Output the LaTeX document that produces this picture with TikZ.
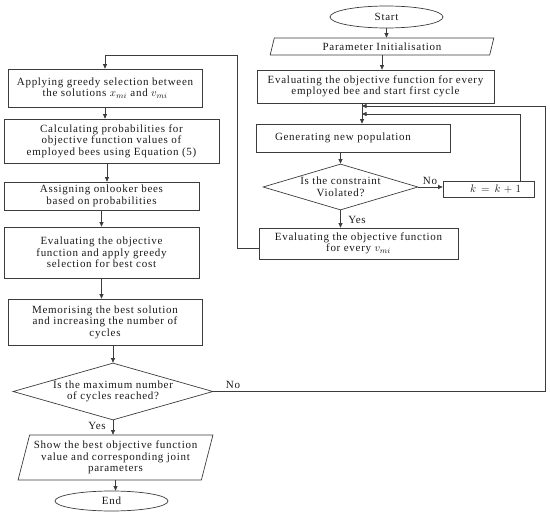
\documentclass[tikz,border=0pt]{standalone}
\usepackage{fontspec}
\setmainfont{Liberation Serif}[LetterSpace=6.5]
\usetikzlibrary{shapes.geometric,arrows.meta,calc}
\definecolor{lc}{RGB}{60,60,60}
\begin{document}
\begin{tikzpicture}[x=1pt,y=-1pt,
  font=\fontsize{11}{11.5}\selectfont,
  every node/.style={text=black!90},
  box/.style={draw=lc, line width=0.7pt, rectangle, align=center, inner sep=0pt},
  para/.style={draw=lc, line width=0.7pt, trapezium, trapezium stretches=true, align=center, inner sep=0pt},
  oval/.style={draw=lc, line width=0.7pt, ellipse, inner sep=0pt},
  dia/.style={draw=lc, line width=0.7pt, diamond, align=center, inner sep=0pt},
  arr/.style={draw=lc, line width=0.7pt, -{Triangle[length=4.5pt,width=4pt]}},
  lbl/.style={inner sep=0pt}]
\useasboundingbox (0,0) rectangle (550,514);
% helper coordinates
\coordinate (cx1) at (362,0);
\coordinate (cxk) at (520,0);
\coordinate (cR) at (545,0);
\coordinate (cy1) at (0,106);
\coordinate (cy2) at (0,114);
\coordinate (loopL) at (237,55);
\coordinate (xb2) at (107,0);
% right column
\node[oval, minimum width=113pt, minimum height=22pt] (start) at (386.5,17) {Start};
\node[para, trapezium left angle=73.6, trapezium right angle=106.4, minimum width=224pt, minimum height=17pt] (param) at (382,46.5) {Parameter Initialisation};
\node[box, minimum width=237pt, minimum height=33pt] (eval1) at (375.5,86.5) {Evaluating the objective function for every\\employed bee and start first cycle};
\node[box, minimum width=194pt, minimum height=28pt, text width=156pt, align=left, inner xsep=19pt] (gen) at (353,138) {Generating new population};
\node[dia, aspect=3.37, minimum width=155pt, minimum height=46pt] (d1) at (340.5,187) {Is the constraint\\Violated?};
\node[box, minimum width=91pt, minimum height=16pt, text width=65pt, align=right, inner xsep=13pt] (kb) at (488.5,189) {$k = k + 1$};
\node[box, minimum width=199pt, minimum height=31pt] (eval2) at (358.5,243.5) {Evaluating the objective function\\for every $v_{mi}$};
% left column
\node[box, minimum width=194pt, minimum height=38pt] (b1) at (105,88) {Applying greedy selection between\\the solutions $x_{mi}$ and $v_{mi}$};
\node[box, minimum width=215pt, minimum height=44pt] (b2) at (111.5,141) {Calculating probabilities for\\objective function values of\\employed bees using Equation (5)};
\node[box, minimum width=195pt, minimum height=28pt] (b3) at (101.5,196) {Assigning onlooker bees\\based on probabilities};
\node[box, minimum width=195pt, minimum height=51pt] (b4) at (101.5,252.5) {Evaluating the objective\\function and apply greedy\\selection for best cost};
\node[box, minimum width=194pt, minimum height=46pt] (b5) at (105,322) {Memorising the best solution\\and increasing the number of\\cycles};
\node[dia, aspect=3.5, minimum width=200pt, minimum height=57pt] (d2) at (113,391.5) {Is the maximum number\\of cycles reached?};
\node[para, trapezium left angle=71.6, trapezium right angle=108.4, minimum width=195pt, minimum height=45pt] (show) at (115.5,457.5) {Show the best objective function\\value and corresponding joint\\parameters};
\node[oval, minimum width=113pt, minimum height=20pt] (end) at (111.5,501) {End};
% labels
\node[lbl] (no1) at (430,181) {No};
\node[lbl] (yes1) at (357,220) {Yes};
\node[lbl] (no2) at (233,385) {No};
\node[lbl] (yes2) at (97,426) {Yes};
% connectors
\draw[arr] (start.south) -- (start.south |- param.north);
\draw[arr] (param.south) -- (param.south |- eval1.north);
\draw[arr] (eval1.south -| cx1) -- (gen.north -| cx1);
\draw[arr] (gen.south -| d1.north) -- (d1.north);
\draw[arr] (d1.east) -- (kb.west |- d1.east);
\draw[arr] (kb.north -| cxk) -- (cxk |- cy2) -- (cx1 |- cy2);
\draw[arr] (d1.south) -- (d1.south |- eval2.north);
\draw[arr] ([yshift=-4.5pt]eval2.west) -| (loopL) -| (b1.north);
\draw[arr] (b1.south) -- (b1.south |- b2.north);
\draw[arr] (b2.south -| xb2) -- (b3.north -| xb2);
\draw[arr] (b3.south) -- (b3.south |- b4.north);
\draw[arr] (b4.south) -- (b4.south |- b5.north);
\draw[arr] (b5.south -| d2.north) -- (d2.north);
\draw[arr] (d2.east) -- (d2.east -| cR) -- (cR |- cy1) -- (cx1 |- cy1);
\draw[arr] (d2.south) -- (d2.south |- show.north);
\draw[arr] (show.south) -- (show.south |- end.north);
\end{tikzpicture}
\end{document}
